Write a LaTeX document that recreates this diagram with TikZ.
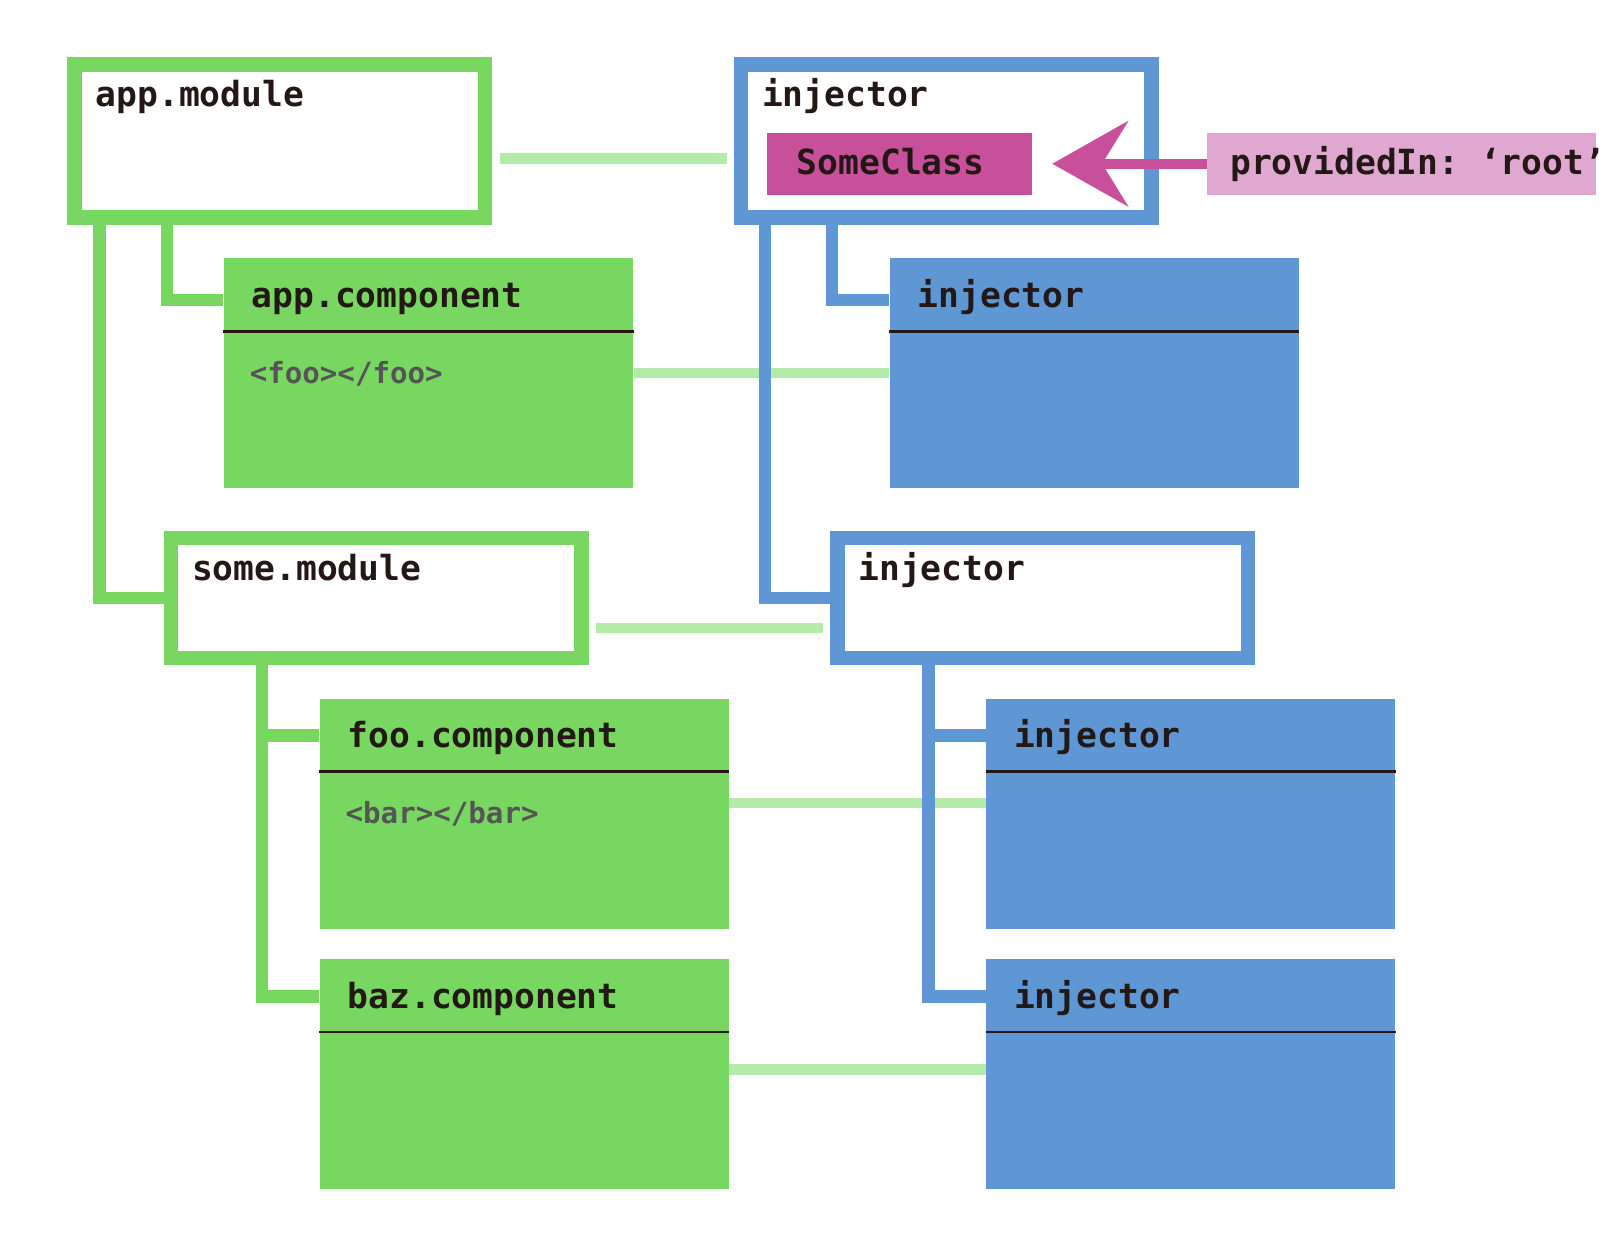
\documentclass[tikz,border=0pt]{standalone}
\usepackage{fontspec}
\setmonofont{DejaVu Sans Mono}
\usetikzlibrary{positioning,calc,arrows.meta}
\definecolor{modgreen}{HTML}{77D760}
\definecolor{injblue}{HTML}{5E97D4}
\definecolor{linkgreen}{HTML}{B5EBA8}
\definecolor{clsmag}{HTML}{C8509A}
\definecolor{provpink}{HTML}{E0A8D0}
\definecolor{txtdark}{HTML}{231815}
\definecolor{codegrey}{HTML}{555555}
\tikzset{
  outl/.style = {draw,line width=0.28cm,fill=white,inner sep=0pt,
    minimum width=7.92cm,minimum height=#1},
  comp/.style = {fill=#1,inner sep=0pt,minimum width=7.9cm,minimum height=4.44cm},
  title/.style = {anchor=base west,inner sep=0pt,text=txtdark,
    font=\ttfamily\bfseries\fontsize{19}{22}\selectfont},
  code/.style = {anchor=base west,inner sep=0pt,text=codegrey,
    font=\ttfamily\bfseries\fontsize{16}{20}\selectfont},
  tree/.style = {draw=#1,line width=0.24cm},
  link/.style = {draw=linkgreen,line width=0.2cm},
  head/.style = {draw=txtdark,line width=0.05cm}
}
\begin{document}
\begin{tikzpicture}
 \useasboundingbox (0,0) rectangle (31.34,-24.12);
 % modules and injectors
 \node[outl=2.96cm,draw=modgreen] (am) at (5.4,-2.72) {};
 \node[outl=2.96cm,draw=injblue] (inj1) at (18.26,-2.72) {};
 \node[outl=2.32cm,draw=modgreen] (sm) at (7.26,-11.54) {};
 \node[outl=2.32cm,draw=injblue] (inj3) at (20.12,-11.54) {};
 % components
 \node[comp=modgreen] (ac) at (8.27,-7.2) {};
 \node[comp=injblue] (inj2) at (21.12,-7.2) {};
 \node[comp=modgreen] (fc) at (10.12,-15.7) {};
 \node[comp=injblue] (inj4) at (22.98,-15.7) {};
 \node[comp=modgreen] (bc) at (10.12,-20.72) {};
 \node[comp=injblue] (inj5) at (22.98,-20.72) {};
 % header rules
 \foreach \c in {ac,inj2,fc,inj4,bc,inj5}
  \draw[head] ([yshift=-1.42cm]\c.north west) -- ([yshift=-1.42cm]\c.north east);
 % titles
 \node[title] at ([shift={(0.54,-0.96)}]am.north west) {app.module};
 \node[title] at ([shift={(0.54,-0.96)}]inj1.north west) {injector};
 \node[title] at ([shift={(0.54,-0.96)}]sm.north west) {some.module};
 \node[title] at ([shift={(0.54,-0.96)}]inj3.north west) {injector};
 \node[title] at ([shift={(0.54,-0.96)}]ac.north west) {app.component};
 \node[title] at ([shift={(0.54,-0.96)}]fc.north west) {foo.component};
 \node[title] at ([shift={(0.54,-0.96)}]bc.north west) {baz.component};
 \foreach \c in {inj2,inj4,inj5}
  \node[title] at ([shift={(0.54,-0.96)}]\c.north west) {injector};
 \node[code] at ([shift={(0.5,-2.42)}]ac.north west) {<foo></foo>};
 \node[code] at ([shift={(0.5,-2.42)}]fc.north west) {<bar></bar>};
 % providedIn
 \node[fill=clsmag,minimum width=5.12cm,minimum height=1.2cm,inner sep=0pt] (sc) at (17.36,-3.16) {};
 \node[title] at ([shift={(0.58,-0.82)}]sc.north west) {SomeClass};
 \node[fill=provpink,minimum width=7.5cm,minimum height=1.2cm,inner sep=0pt] (prov) at (27.05,-3.16) {};
 \node[title] at ([shift={(0.44,-0.82)}]prov.north west) {providedIn:~‘root’};
 \draw[draw=clsmag,line width=0.2cm,shorten >=0.38cm,
  -{Stealth[length=1.46cm,width=1.64cm,inset=0.5cm]}] (prov.west) -- (sc.east);
 % links
 \draw[link,shorten <=0.14cm,shorten >=0.14cm] ([yshift=-0.34cm]am.east) -- ([yshift=-0.34cm]inj1.west);
 \draw[link] (ac.east) -- (inj2.west);
 \draw[link,shorten <=0.14cm,shorten >=0.14cm] ([yshift=-0.58cm]sm.east) -- ([yshift=-0.58cm]inj3.west);
 \draw[link] ([yshift=0.2cm]fc.east) -- ([yshift=0.2cm]inj4.west);
 \draw[link] ([yshift=0.08cm]bc.east) -- ([yshift=0.08cm]inj5.west);
 % trees
 \draw[tree=modgreen] ([xshift=0.62cm]am.south west) |- (sm.west);
 \draw[tree=modgreen] ([xshift=1.92cm]am.south west) |- ([yshift=-0.82cm]ac.north west);
 \draw[tree=modgreen] ([xshift=1.9cm]sm.south west) |- ([yshift=-0.72cm]fc.north west);
 \draw[tree=modgreen] ([xshift=1.9cm]sm.south west) |- ([yshift=-0.74cm]bc.north west);
 \draw[tree=injblue] ([xshift=0.6cm]inj1.south west) |- (inj3.west);
 \draw[tree=injblue] ([xshift=1.9cm]inj1.south west) |- ([yshift=-0.82cm]inj2.north west);
 \draw[tree=injblue] ([xshift=1.9cm]inj3.south west) |- ([yshift=-0.72cm]inj4.north west);
 \draw[tree=injblue] ([xshift=1.9cm]inj3.south west) |- ([yshift=-0.74cm]inj5.north west);
\end{tikzpicture}
\end{document}
